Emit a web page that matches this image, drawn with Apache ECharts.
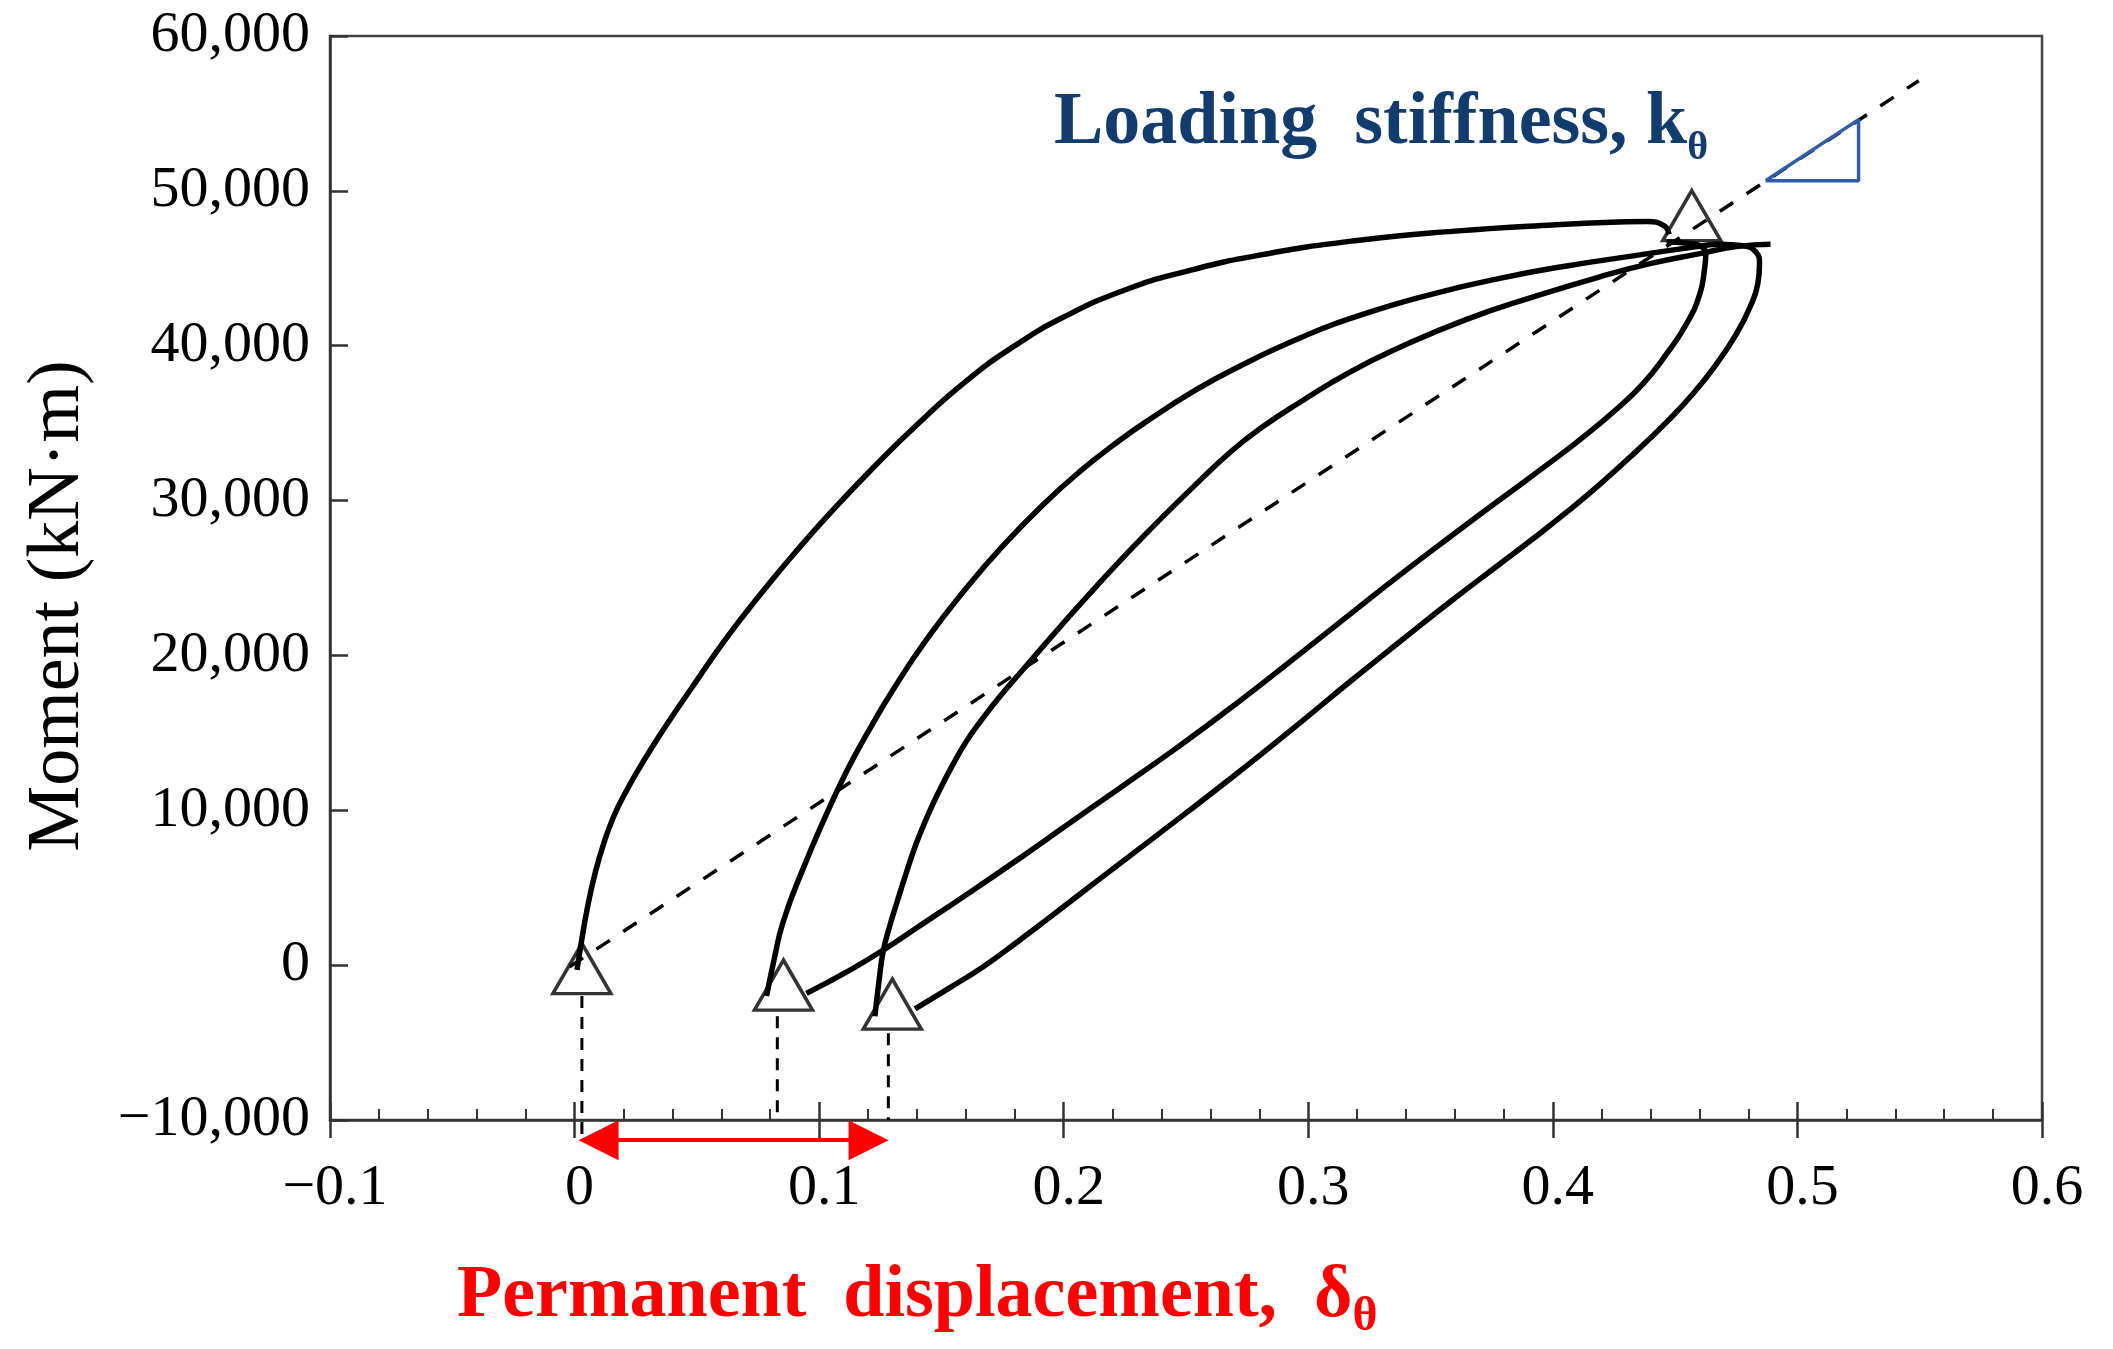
<!DOCTYPE html>
<html>
<head>
<meta charset="utf-8">
<title>Moment - rotation loops</title>
<script src="https://cdn.jsdelivr.net/npm/echarts@6/dist/echarts.min.js"></script>
<style>
  html, body { margin: 0; padding: 0; background: #fff; }
  #chart { width: 2113px; height: 1349px; }
</style>
</head>
<body>
<div id="chart"></div>
<script>
// first loading branch, from the origin to the peak
var load1 = [
  [0.001, -300], [0.003, 1700], [0.0055, 3900], [0.0085, 6000], [0.012, 7900],
  [0.016, 9600], [0.0205, 11050], [0.026, 12600], [0.032, 14150], [0.039, 15850],
  [0.047, 17700], [0.062, 21100], [0.077, 24150], [0.091, 26800], [0.106, 29450],
  [0.122, 32100], [0.14, 34900], [0.16, 37700], [0.18, 40000], [0.2, 41850],
  [0.225, 43600], [0.25, 44800], [0.28, 45850], [0.32, 46800], [0.36, 47400],
  [0.4, 47800], [0.43, 48000], [0.4386, 48020], [0.4454, 47750], [0.4475, 47200]
];
// first unloading branch, peak down to the 2nd permanent point
var unload1 = [
  [0.4465, 46700], [0.455, 46620], [0.4608, 46400], [0.4625, 45850], [0.4621, 45050],
  [0.4601, 43350], [0.4546, 41400], [0.4464, 39450], [0.4369, 37550], [0.426, 35900],
  [0.4124, 34100], [0.3988, 32450], [0.3783, 30050], [0.3579, 27650], [0.3375, 25200],
  [0.317, 22650], [0.2966, 20100], [0.269, 16700], [0.2455, 13950], [0.2221, 11350],
  [0.2, 8900], [0.1806, 6750], [0.1602, 4550], [0.1398, 2400], [0.1262, 972],
  [0.1126, -319], [0.0948, -1823]
];
// second loop: reloading, then unloading to the 3rd permanent point
var load2 = [
  [0.0785, -2000], [0.0815, 300], [0.0853, 2800], [0.0935, 6250], [0.103, 9750],
  [0.1115, 12600], [0.1194, 14900], [0.1303, 17800], [0.1438, 21000], [0.1602, 24350],
  [0.1753, 27100], [0.192, 29800], [0.2064, 31850], [0.2221, 33800], [0.2352, 35250],
  [0.2525, 37000], [0.2691, 38450], [0.2966, 40500], [0.3238, 42100], [0.3511, 43350],
  [0.3783, 44350], [0.4056, 45150], [0.4329, 45800], [0.4589, 46400], [0.468, 46550],
  [0.478, 46450], [0.483, 46050], [0.4845, 45300], [0.4838, 44000], [0.4805, 42450],
  [0.475, 40750], [0.4668, 38800], [0.4573, 36900], [0.4464, 35050], [0.4329, 33000],
  [0.4192, 31050], [0.4056, 29250], [0.392, 27550], [0.3783, 25900], [0.3579, 23450],
  [0.3375, 20900], [0.317, 18300], [0.2966, 15650], [0.269, 12150], [0.2378, 8350],
  [0.215, 5600], [0.1944, 3100], [0.1806, 1450], [0.1671, -100], [0.1535, -1450],
  [0.1392, -2818]
];
// third reloading branch
var load3 = [
  [0.1228, -3300], [0.1245, -1000], [0.1262, 900], [0.129, 2600], [0.1317, 4000],
  [0.1355, 5900], [0.1397, 7850], [0.1445, 9700], [0.1494, 11350], [0.1545, 12900],
  [0.1602, 14450], [0.1665, 15850], [0.1739, 17350], [0.1848, 19350], [0.1944, 21100],
  [0.2064, 23250], [0.2299, 27250], [0.2534, 30950], [0.269, 33250], [0.2812, 34750],
  [0.2966, 36350], [0.317, 38300], [0.3375, 39900], [0.3647, 41700], [0.392, 43150],
  [0.4192, 44450], [0.4397, 45300], [0.4601, 45950], [0.475, 46400], [0.489, 46550]
];

var stiffnessLine = [[-0.002, -100], [0.5496, 57115]];
var slopeTriangle = [[0.487, 50650], [0.525, 50650], [0.525, 54600], [0.487, 50650]];
var permanentPoints = [[0.003, -222], [0.0854, -1284], [0.1299, -2512]];
var peakPoint = [[0.4568, 48400]];
var dropX = [0.003, 0.0829, 0.1283];
var dropTop = [-2000, -3300, -4400];
var dropBottom = [-11000, -10000, -10000];
var arrowY = -11300;
var arrowFrom = 0.0098, arrowTo = 0.1202;

var serif = 'Liberation Serif';
var axisColor = '#333';

function fmtThousands(v) {
  var s = Math.abs(v).toString().replace(/\B(?=(\d{3})+(?!\d))/g, ',');
  return (v < 0 ? '\u2212' : '') + s;
}
function fmtX(v) {
  var r = Math.round(v * 10) / 10;
  return (r < 0 ? '\u2212' : '') + Math.abs(r).toString();
}
function curve(data) {
  return {
    type: 'line', data: data, smooth: 0.5, symbol: 'none', z: 3, silent: true,
    lineStyle: { color: '#000', width: 5.5 }
  };
}

var series = [
  {
    type: 'line', data: stiffnessLine, symbol: 'none', z: 2, silent: true,
    lineStyle: { color: '#000', width: 3.5, type: [16, 16] }
  },
  curve(load1), curve(unload1), curve(load2), curve(load3)
];
dropX.forEach(function (x, i) {
  series.push({
    type: 'line', data: [[x, dropTop[i]], [x, dropBottom[i]]], symbol: 'none',
    clip: false, z: 2, silent: true,
    lineStyle: { color: '#000', width: 3, type: [12, 9] }
  });
});
series.push({
  type: 'scatter', data: permanentPoints.concat(peakPoint), symbol: 'triangle',
  symbolSize: [58, 50], z: 5, silent: true,
  itemStyle: { color: 'rgba(0,0,0,0)', borderColor: '#000', borderWidth: 3.5 }
});
series.push({
  type: 'line', data: slopeTriangle, symbol: 'none', z: 6, silent: true,
  lineStyle: { color: '#2f5da8', width: 3.5 }
});
series.push({
  type: 'lines', coordinateSystem: 'cartesian2d', clip: false, z: 6, silent: true,
  symbol: ['triangle', 'triangle'], symbolSize: 40,
  lineStyle: { color: '#ff0000', width: 4, opacity: 1 },
  data: [{ coords: [[arrowFrom, arrowY], [arrowTo, arrowY]] }]
});

var chart = echarts.init(document.getElementById('chart'));
chart.setOption({
  animation: false,
  backgroundColor: '#fff',
  title: [
    {
      text: '{a|Loading  stiffness, k}{b|θ}', left: 1054, top: 79, padding: 0,
      textStyle: {
        rich: {
          a: { fontFamily: serif, fontWeight: 'bold', fontSize: 74, lineHeight: 90, color: '#123c6e' },
          b: { fontFamily: serif, fontWeight: 'bold', fontSize: 40, lineHeight: 40, verticalAlign: 'bottom', color: '#123c6e' }
        }
      }
    },
    {
      text: '{a|Permanent  displacement,  δ}{b|θ}', left: 457, top: 1252, padding: 0,
      textStyle: {
        rich: {
          a: { fontFamily: serif, fontWeight: 'bold', fontSize: 74, lineHeight: 90, color: '#ff0000' },
          b: { fontFamily: serif, fontWeight: 'bold', fontSize: 48, lineHeight: 48, verticalAlign: 'bottom', color: '#ff0000' }
        }
      }
    }
  ],
  grid: {
    left: 330, top: 36, width: 1712, height: 1084,
    show: true, borderColor: '#444', borderWidth: 2.5
  },
  xAxis: [
    {
      type: 'value', min: -0.1, max: 0.6, interval: 0.1,
      axisLine: { onZero: false, lineStyle: { color: axisColor, width: 2.5 } },
      axisTick: { inside: true, length: 18, lineStyle: { color: axisColor, width: 2.5 } },
      minorTick: { show: true, splitNumber: 5, length: 11, lineStyle: { color: axisColor, width: 2 } },
      splitLine: { show: false },
      axisLabel: { color: '#000', fontFamily: serif, fontSize: 58, margin: 40, padding: [0, 0, 0, 10], formatter: fmtX }
    },
    {
      type: 'value', min: -0.1, max: 0.6, interval: 0.1, position: 'bottom',
      axisLine: { show: false, onZero: false },
      axisTick: { show: true, inside: false, length: 18, lineStyle: { color: axisColor, width: 2.5 } },
      splitLine: { show: false },
      axisLabel: { show: false }
    }
  ],
  yAxis: {
    type: 'value', min: -10000, max: 60000, interval: 10000,
    axisLine: { show: true, onZero: false, lineStyle: { color: axisColor, width: 2.5 } },
    axisTick: { show: true, inside: true, length: 18, lineStyle: { color: axisColor, width: 2.5 } },
    splitLine: { show: false },
    axisLabel: { color: '#000', fontFamily: serif, fontSize: 58, margin: 20, formatter: fmtThousands },
    name: 'Moment (kN·m)', nameLocation: 'middle', nameGap: 234,
    nameTextStyle: { fontFamily: serif, fontSize: 74, color: '#000', padding: [0, 56, 0, 0] }
  },
  series: series
});
</script>
</body>
</html>
